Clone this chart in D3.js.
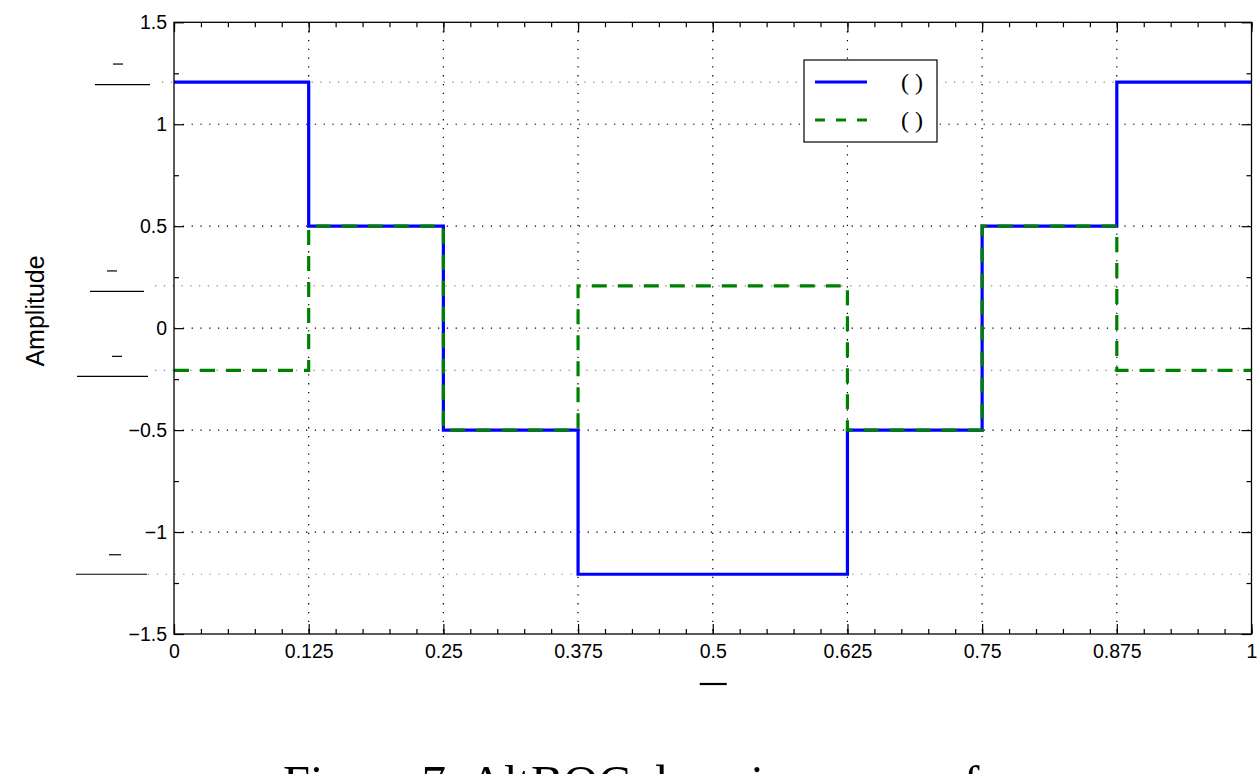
<!DOCTYPE html>
<html>
<head>
<meta charset="utf-8">
<script src="https://cdn.jsdelivr.net/npm/d3@7"></script>
<style>
	body { margin: 0; background: #fff; }
</style>
</head>
<body>
<div id="chart"></div>
<script>
// Data
const phaseX = [0, 0.125, 0.25, 0.375, 0.5, 0.625, 0.75, 0.875, 1]
const cosValues = [1.207, 0.5, -0.5, -1.207, -1.207, -0.5, 0.5, 1.207, 1.207]
const sinValues = [-0.207, 0.5, -0.5, 0.207, 0.207, -0.5, 0.5, -0.207, -0.207]
const xTickValues = [0, 0.125, 0.25, 0.375, 0.5, 0.625, 0.75, 0.875, 1]
const xTickLabels = ['0', '0.125', '0.25', '0.375', '0.5', '0.625', '0.75', '0.875', '1']
const xMinorValues = d3.range(0, 41).map(i => i / 40)
const yTickValues = [-1.5, -1, -0.5, 0, 0.5, 1, 1.5]
const yTickLabels = ['\u22121.5', '\u22121', '\u22120.5', '0', '0.5', '1', '1.5']
const yMinorValues = [-1.25, -0.75, -0.25, 0.25, 0.75, 1.25]
const levelValues = [1.207, 0.207, -0.207, -1.207]
const legendLabels = ['( )', '( )']
const yLabel = 'Amplitude'
const captionText = 'Figure 7: AltBOC domain curves of'

// layout of the clipped level labels on the left (fraction bars with lost glyphs)
const levelMarks = [
	{ lineFrom: 162, bar: [95, 150], barDy: 2.5, dash: [113, 123], dashDy: -18 },
	{ lineFrom: 155, bar: [90, 144], barDy: 5.5, dash: [107, 117], dashDy: -15 },
	{ lineFrom: 155, bar: [77, 148], barDy: 6, dash: [112, 122], dashDy: -14 },
	{ lineFrom: 148, bar: [76, 147], barDy: 0, dash: [109, 121], dashDy: -19.5 }
]

function draw() {
	let dimensions = {
		width: 1257,
		height: 774,
		margin: { top: 22.3, bottom: 140, left: 174, right: 5.5 }
	}
	dimensions.ctrWidth = dimensions.width - dimensions.margin.left - dimensions.margin.right
	dimensions.ctrHeight = dimensions.height - dimensions.margin.top - dimensions.margin.bottom

	const svg = d3.select('#chart')
		.append('svg')
		.attr('width', dimensions.width)
		.attr('height', dimensions.height)

	const ctr = svg.append('g')
		.attr('transform', `translate(${dimensions.margin.left}, ${dimensions.margin.top})`)

	// Scales
	const xScale = d3.scaleLinear()
		.domain([0, 1])
		.range([0, dimensions.ctrWidth])

	const yScale = d3.scaleLinear()
		.domain([-1.5, 1.5])
		.range([dimensions.ctrHeight, 0])

	// Grid
	const grid = ctr.append('g')
		.attr('stroke', '#000')
		.attr('stroke-width', 1.2)
		.attr('stroke-dasharray', '1.3,7.5')
		.attr('fill', 'none')

	grid.selectAll('.vgrid')
		.data(xTickValues.slice(1, -1))
		.join('line')
		.attr('x1', d => xScale(d))
		.attr('x2', d => xScale(d))
		.attr('y1', 0)
		.attr('y2', dimensions.ctrHeight)

	grid.selectAll('.hgrid')
		.data(yTickValues.slice(1, -1))
		.join('line')
		.attr('class', 'hgrid')
		.attr('x1', 0)
		.attr('x2', dimensions.ctrWidth)
		.attr('y1', d => yScale(d))
		.attr('y2', d => yScale(d))

	// Reference levels (grey dotted, running out past the axis)
	ctr.append('g')
		.selectAll('line')
		.data(levelValues)
		.join('line')
		.attr('x1', (d, i) => levelMarks[i].lineFrom - dimensions.margin.left)
		.attr('x2', dimensions.ctrWidth)
		.attr('y1', d => yScale(d))
		.attr('y2', d => yScale(d))
		.attr('stroke', '#8a8a8a')
		.attr('stroke-width', 1.2)
		.attr('stroke-dasharray', '1.3,7.5')

	// Level labels: only the bars of the fractions came through
	const marks = svg.append('g').attr('stroke', '#000').attr('stroke-width', 1.2)
	levelValues.forEach((v, i) => {
		const m = levelMarks[i]
		const yy = dimensions.margin.top + yScale(v)
		marks.append('line')
			.attr('x1', m.bar[0]).attr('x2', m.bar[1])
			.attr('y1', yy + m.barDy).attr('y2', yy + m.barDy)
		marks.append('line')
			.attr('x1', m.dash[0]).attr('x2', m.dash[1])
			.attr('y1', yy + m.dashDy).attr('y2', yy + m.dashDy)
	})

	// Lines
	const lineGen = (vals) => d3.line()
		.x((d, i) => xScale(phaseX[i]))
		.y(d => yScale(d))
		.curve(d3.curveStepAfter)(vals)

	ctr.append('path')
		.attr('d', lineGen(cosValues))
		.attr('fill', 'none')
		.attr('stroke', '#0000ff')
		.attr('stroke-width', 3.2)

	ctr.append('path')
		.attr('d', lineGen(sinValues))
		.attr('fill', 'none')
		.attr('stroke', '#008000')
		.attr('stroke-width', 3.2)
		.attr('stroke-dasharray', '15,11')

	// Axes (ticks inward on all sides)
	const fontTicks = 'Liberation Sans, Arial, sans-serif'
	const styleAxis = (g) => {
		g.select('.domain').remove()
		g.selectAll('line').attr('stroke', '#000').attr('stroke-width', 1.2)
		g.selectAll('text').attr('font-family', fontTicks).attr('font-size', 19.5).attr('fill', '#000')
	}

	ctr.append('g')
		.attr('transform', `translate(0, ${dimensions.ctrHeight})`)
		.call(d3.axisBottom(xScale).tickValues(xMinorValues).tickFormat('').tickSizeInner(-5).tickSizeOuter(0))
		.call(styleAxis)
	ctr.append('g')
		.attr('transform', `translate(0, ${dimensions.ctrHeight})`)
		.call(d3.axisBottom(xScale).tickValues(xTickValues).tickFormat((d, i) => xTickLabels[i]).tickSizeInner(-10).tickSizeOuter(0).tickPadding(10))
		.call(styleAxis)
	ctr.append('g')
		.call(d3.axisTop(xScale).tickValues(xMinorValues).tickFormat('').tickSizeInner(-5).tickSizeOuter(0))
		.call(styleAxis)
	ctr.append('g')
		.call(d3.axisTop(xScale).tickValues(xTickValues).tickFormat('').tickSizeInner(-10).tickSizeOuter(0))
		.call(styleAxis)

	ctr.append('g')
		.call(d3.axisLeft(yScale).tickValues(yMinorValues).tickFormat('').tickSizeInner(-5).tickSizeOuter(0))
		.call(styleAxis)
	ctr.append('g')
		.call(d3.axisLeft(yScale).tickValues(yTickValues).tickFormat((d, i) => yTickLabels[i]).tickSizeInner(-10).tickSizeOuter(0).tickPadding(7))
		.call(styleAxis)
	ctr.append('g')
		.attr('transform', `translate(${dimensions.ctrWidth}, 0)`)
		.call(d3.axisRight(yScale).tickValues(yMinorValues).tickFormat('').tickSizeInner(-5).tickSizeOuter(0))
		.call(styleAxis)
	ctr.append('g')
		.attr('transform', `translate(${dimensions.ctrWidth}, 0)`)
		.call(d3.axisRight(yScale).tickValues(yTickValues).tickFormat('').tickSizeInner(-10).tickSizeOuter(0))
		.call(styleAxis)

	// Frame
	ctr.append('rect')
		.attr('width', dimensions.ctrWidth)
		.attr('height', dimensions.ctrHeight)
		.attr('fill', 'none')
		.attr('stroke', '#000')
		.attr('stroke-width', 1.3)

	// Axis labels
	svg.append('text')
		.attr('transform', `translate(44, 311) rotate(-90)`)
		.attr('text-anchor', 'middle')
		.attr('font-family', fontTicks)
		.attr('font-size', 25)
		.text(yLabel)

	svg.append('line')
		.attr('x1', dimensions.margin.left + xScale(0.5) - 13)
		.attr('x2', dimensions.margin.left + xScale(0.5) + 14)
		.attr('y1', 684)
		.attr('y2', 684)
		.attr('stroke', '#000')
		.attr('stroke-width', 2.2)

	// Legend
	const legend = svg.append('g').attr('transform', 'translate(804, 60)')
	legend.append('rect')
		.attr('width', 133)
		.attr('height', 82)
		.attr('fill', '#fff')
		.attr('stroke', '#000')
		.attr('stroke-width', 1.2)
	const legendStyles = [
		{ color: '#0000ff', dash: null },
		{ color: '#008000', dash: '10,11' }
	]
	legendLabels.forEach((label, i) => {
		const ly = 22 + i * 38
		legend.append('line')
			.attr('x1', 11).attr('x2', 63)
			.attr('y1', ly).attr('y2', ly)
			.attr('stroke', legendStyles[i].color)
			.attr('stroke-width', 3.2)
			.attr('stroke-dasharray', legendStyles[i].dash)
		legend.append('text')
			.attr('x', 97)
			.attr('y', ly + 8)
			.attr('font-family', 'Liberation Serif, serif')
			.attr('font-size', 24)
			.text(label)
	})

	// Caption (cut off by the page edge, as in the source page)
	svg.append('text')
		.attr('x', 283)
		.attr('y', 799)
		.attr('font-family', 'Liberation Serif, serif')
		.attr('font-size', 48.5)
		.text(captionText)
}

draw()
</script>
</body>
</html>
